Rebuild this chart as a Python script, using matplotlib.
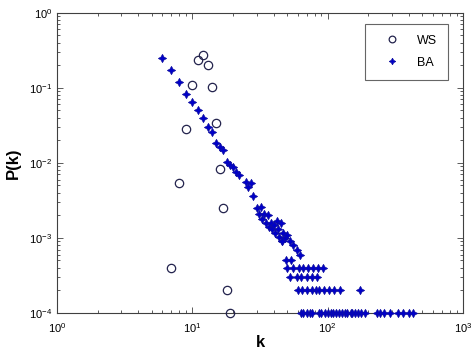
import numpy as np
import matplotlib
matplotlib.use("Agg")
import matplotlib.pyplot as plt

plt.rcParams['font.family'] = ['Liberation Sans', 'DejaVu Sans']
plt.rcParams['mathtext.fontset'] = 'custom'
plt.rcParams['mathtext.rm'] = 'Liberation Sans'

# WS degree distribution
ws_k = [7, 8, 9, 10, 11, 12, 13, 14, 15, 16, 17, 18, 19]
ws_p = [0.0004, 0.0054, 0.028, 0.11, 0.236, 0.275, 0.203, 0.103, 0.034, 0.0083, 0.0025, 0.0002, 0.0001]

# BA degree distribution
ba_k = [6, 7, 8, 9, 10, 11, 12, 13, 14, 15, 16, 17, 18, 19, 20, 21, 22,
        25, 26, 27, 28, 30, 31, 32, 33, 34, 35, 36, 37, 38, 39, 40, 41, 42, 43, 44, 45, 46, 47, 48, 50,
        46, 53, 55, 59, 62,
        49, 54,
        50, 55, 61, 66, 72, 78, 85, 92,
        53, 59, 64, 70, 77, 84,
        60, 65, 70, 76, 82, 86, 94, 102, 111, 123, 172,
        63, 66, 70, 74, 77, 86, 90, 95, 100, 105, 110, 116, 121, 128, 134, 139,
        148, 152, 160, 168, 176, 188, 232, 245, 262, 289, 331, 360, 400, 428]
ba_p = [0.253, 0.175, 0.121, 0.083, 0.065, 0.051, 0.040, 0.030, 0.0257, 0.0183, 0.0165, 0.0150,
        0.0104, 0.0094, 0.0088, 0.0076, 0.0069,
        0.0056, 0.0048, 0.0054, 0.0036, 0.0025, 0.0021, 0.0026, 0.0018, 0.0021, 0.0016, 0.0020,
        0.0014, 0.0016, 0.0013, 0.0015, 0.00116, 0.0017, 0.0013, 0.00104, 0.0016, 0.0009, 0.00116,
        0.0010, 0.0011,
        0.0009, 0.0009, 0.0008, 0.0007, 0.0006,
        0.0005, 0.0005,
        0.0004, 0.0004, 0.0004, 0.0004, 0.0004, 0.0004, 0.0004, 0.0004,
        0.0003, 0.0003, 0.0003, 0.0003, 0.0003, 0.0003,
        0.0002, 0.0002, 0.0002, 0.0002, 0.0002, 0.0002, 0.0002, 0.0002, 0.0002, 0.0002, 0.0002,
        0.0001, 0.0001, 0.0001, 0.0001, 0.0001, 0.0001, 0.0001, 0.0001, 0.0001, 0.0001, 0.0001,
        0.0001, 0.0001, 0.0001, 0.0001, 0.0001,
        0.0001, 0.0001, 0.0001, 0.0001, 0.0001, 0.0001, 0.0001, 0.0001, 0.0001, 0.0001, 0.0001,
        0.0001, 0.0001, 0.0001]

fig = plt.figure(figsize=(4.74, 3.56), dpi=100)
ax = fig.add_axes([0.120, 0.121, 0.857, 0.843])

ax.plot(ws_k, ws_p, 'o', mfc='none', mec='#23234d', mew=0.9, ms=6, label='WS', clip_on=False, zorder=3)
ax.plot(ba_k, ba_p, marker=(4, 1, 0), ls='none', color='#0000c8', mec='#1010a0', mew=0.5, ms=6,
        label='BA', clip_on=False, zorder=3)

ax.set_xscale('log')
ax.set_yscale('log')
ax.set_xlim(1, 1000)
ax.set_ylim(1e-4, 1)

for s in ax.spines.values():
    s.set_color('#404040')
    s.set_linewidth(0.8)
ax.tick_params(which='both', direction='in', top=True, right=True, colors='#404040', labelcolor='black', labelsize=8)
ax.tick_params(which='major', length=4, width=0.6)
ax.tick_params(which='minor', length=2.5, width=0.6)
ax.tick_params(axis='x', pad=6)

ax.set_xlabel('k', fontsize=12, fontweight='bold', labelpad=0)
ax.set_ylabel('P(k)', fontsize=12, fontweight='bold', labelpad=6)

leg = ax.legend(loc='upper right', bbox_to_anchor=(0.978, 0.985), fancybox=False, edgecolor='#404040',
                fontsize=9, handlelength=2.4, handletextpad=0.8, borderpad=0.9, labelspacing=0.8,
                markerscale=0.8)
leg.get_frame().set_linewidth(0.8)

fig.savefig('out.png', dpi=100)
